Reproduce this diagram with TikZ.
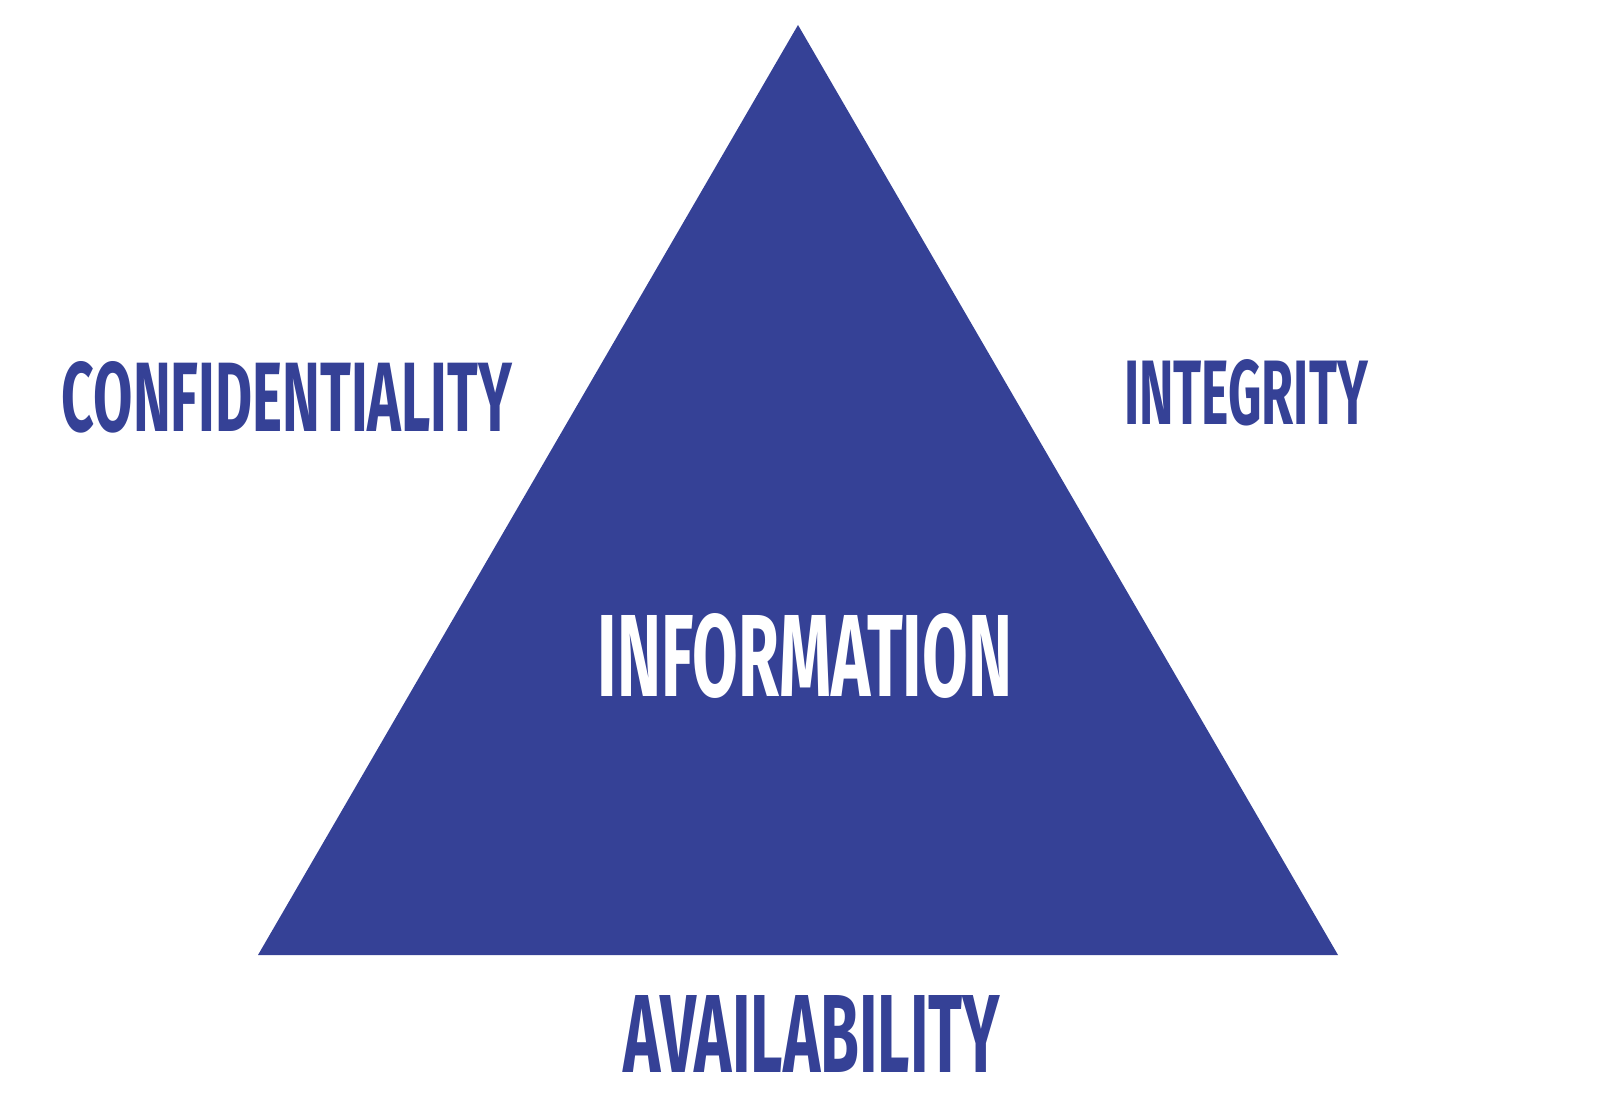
\documentclass[tikz,border=0pt]{standalone}
\usepackage{fontspec}
\setmainfont{Fira Sans}
\usepackage{graphicx}
\definecolor{navy}{HTML}{354196}
\tikzset{lbl/.style={inner sep=0pt,text=navy,font=\bfseries}}
\begin{document}
\begin{tikzpicture}[x=0.5pt,y=-0.5pt]
\useasboundingbox (0,0) rectangle (1600,1112);
\fill[navy] (798,25) -- (1338,955) -- (258,955) -- cycle;
\node[lbl] (c) at (287,397) {\resizebox{225pt}{35pt}{CONFIDENTIALITY}};
\node[lbl] (i) at (1246,392.5) {\resizebox{122pt}{32.5pt}{INTEGRITY}};
\node[lbl,text=white] (n) at (805,655.5) {\resizebox{207pt}{41.5pt}{INFORMATION}};
\node[lbl] (a) at (812,1033.5) {\resizebox{188pt}{38.5pt}{AVAILABILITY}};
\end{tikzpicture}
\end{document}
